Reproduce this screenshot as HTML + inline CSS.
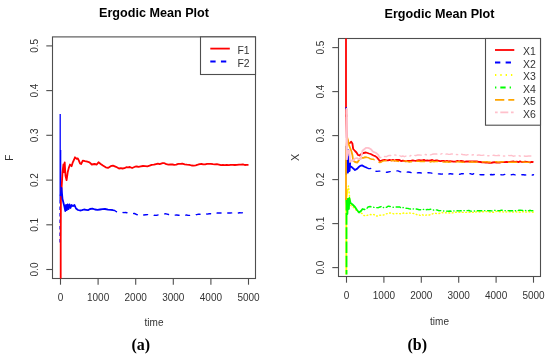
<!DOCTYPE html>
<html><head><meta charset="utf-8"><style>
html,body{margin:0;padding:0;background:#fff;}
body{width:550px;height:358px;overflow:hidden;position:relative;}
svg{position:absolute;left:0;top:0;}
.ls{font-family:"Liberation Sans",Arial,sans-serif;}
.lsr{font-family:"Liberation Serif","Times New Roman",serif;}
</style></head><body>
<svg width="550" height="358" viewBox="0 0 550 358">
<defs>
<clipPath id="cl"><rect x="52.5" y="36.9" width="203.0" height="241.6"/></clipPath>
<clipPath id="cr"><rect x="338.5" y="38.5" width="202.0" height="238.0"/></clipPath>
</defs>

<text x="154.0" y="17.0" class="ls" font-weight="bold" font-size="12.6" text-anchor="middle" fill="#000">Ergodic Mean Plot</text>
<g stroke="#4e4e4e" stroke-width="1.1" fill="none">
<rect x="52.5" y="36.9" width="203.0" height="241.6"/>
<line x1="46.3" y1="269.5" x2="52.5" y2="269.5"/>
<line x1="60.5" y1="278.5" x2="60.5" y2="284.7"/>
<line x1="46.3" y1="224.8" x2="52.5" y2="224.8"/>
<line x1="98.1" y1="278.5" x2="98.1" y2="284.7"/>
<line x1="46.3" y1="180.1" x2="52.5" y2="180.1"/>
<line x1="135.7" y1="278.5" x2="135.7" y2="284.7"/>
<line x1="46.3" y1="135.3" x2="52.5" y2="135.3"/>
<line x1="173.3" y1="278.5" x2="173.3" y2="284.7"/>
<line x1="46.3" y1="90.6" x2="52.5" y2="90.6"/>
<line x1="210.9" y1="278.5" x2="210.9" y2="284.7"/>
<line x1="46.3" y1="45.9" x2="52.5" y2="45.9"/>
<line x1="248.5" y1="278.5" x2="248.5" y2="284.7"/>
</g>
<g class="ls" font-size="10" fill="#333">
<text transform="translate(37.7,269.5) rotate(-90)" text-anchor="middle">0.0</text>
<text x="60.5" y="300.7" text-anchor="middle">0</text>
<text transform="translate(37.7,224.8) rotate(-90)" text-anchor="middle">0.1</text>
<text x="98.1" y="300.7" text-anchor="middle">1000</text>
<text transform="translate(37.7,180.1) rotate(-90)" text-anchor="middle">0.2</text>
<text x="135.7" y="300.7" text-anchor="middle">2000</text>
<text transform="translate(37.7,135.3) rotate(-90)" text-anchor="middle">0.3</text>
<text x="173.3" y="300.7" text-anchor="middle">3000</text>
<text transform="translate(37.7,90.6) rotate(-90)" text-anchor="middle">0.4</text>
<text x="210.9" y="300.7" text-anchor="middle">4000</text>
<text transform="translate(37.7,45.9) rotate(-90)" text-anchor="middle">0.5</text>
<text x="248.5" y="300.7" text-anchor="middle">5000</text>
<text x="154.0" y="326.4" text-anchor="middle">time</text>
<text transform="translate(13.2,157.7) rotate(-90)" text-anchor="middle" font-size="10">F</text>
</g>
<text x="439.5" y="18.3" class="ls" font-weight="bold" font-size="12.6" text-anchor="middle" fill="#000">Ergodic Mean Plot</text>
<g stroke="#4e4e4e" stroke-width="1.1" fill="none">
<rect x="338.5" y="38.5" width="202.0" height="238.0"/>
<line x1="332.3" y1="267.6" x2="338.5" y2="267.6"/>
<line x1="346.5" y1="276.5" x2="346.5" y2="282.7"/>
<line x1="332.3" y1="223.6" x2="338.5" y2="223.6"/>
<line x1="383.9" y1="276.5" x2="383.9" y2="282.7"/>
<line x1="332.3" y1="179.6" x2="338.5" y2="179.6"/>
<line x1="421.3" y1="276.5" x2="421.3" y2="282.7"/>
<line x1="332.3" y1="135.6" x2="338.5" y2="135.6"/>
<line x1="458.7" y1="276.5" x2="458.7" y2="282.7"/>
<line x1="332.3" y1="91.6" x2="338.5" y2="91.6"/>
<line x1="496.1" y1="276.5" x2="496.1" y2="282.7"/>
<line x1="332.3" y1="47.6" x2="338.5" y2="47.6"/>
<line x1="533.5" y1="276.5" x2="533.5" y2="282.7"/>
</g>
<g class="ls" font-size="10" fill="#333">
<text transform="translate(324.2,267.6) rotate(-90)" text-anchor="middle">0.0</text>
<text x="346.5" y="299.0" text-anchor="middle">0</text>
<text transform="translate(324.2,223.6) rotate(-90)" text-anchor="middle">0.1</text>
<text x="383.9" y="299.0" text-anchor="middle">1000</text>
<text transform="translate(324.2,179.6) rotate(-90)" text-anchor="middle">0.2</text>
<text x="421.3" y="299.0" text-anchor="middle">2000</text>
<text transform="translate(324.2,135.6) rotate(-90)" text-anchor="middle">0.3</text>
<text x="458.7" y="299.0" text-anchor="middle">3000</text>
<text transform="translate(324.2,91.6) rotate(-90)" text-anchor="middle">0.4</text>
<text x="496.1" y="299.0" text-anchor="middle">4000</text>
<text transform="translate(324.2,47.6) rotate(-90)" text-anchor="middle">0.5</text>
<text x="533.5" y="299.0" text-anchor="middle">5000</text>
<text x="439.5" y="324.5" text-anchor="middle">time</text>
<text transform="translate(299.0,157.5) rotate(-90)" text-anchor="middle" font-size="10.8">X</text>
</g>
<polyline clip-path="url(#cl)" points="60.2,114.0 60.2,150.0" fill="none" stroke="#0000ff" stroke-width="1.3" stroke-linejoin="round"/>
<polyline clip-path="url(#cl)" points="60.4,150.0 60.4,200.0" fill="none" stroke="#0000ff" stroke-width="1.8" stroke-linejoin="round"/>
<polyline clip-path="url(#cl)" points="60.2,200.0 60.2,244.0" fill="none" stroke="#0000ff" stroke-width="1.6" stroke-linejoin="round" stroke-dasharray="3.5,3"/>
<polyline clip-path="url(#cl)" points="60.7,280.0 60.7,244.0 60.9,200.0 61.6,188.0 62.5,172.3 63.4,164.5 64.0,172.3 64.7,162.3 65.5,175.7 66.6,180.2 67.7,172.3 68.8,167.9 70.0,164.5 71.6,166.2 72.8,162.3 73.9,160.0 75.0,157.3 76.7,158.9 77.8,158.4 78.9,160.6 80.0,163.4 81.1,164.0 82.8,160.6 85.0,161.2 87.3,161.7 89.5,162.3 91.8,164.5 94.5,164.0 96.8,164.5 98.5,162.3 100.7,164.0 102.9,165.6 105.7,167.3 108.0,167.9 110.7,166.2 113.0,165.6 116.0,166.8 119.0,168.5 120.8,168.1 122.6,168.5 124.4,168.2 126.3,167.2 128.1,167.4 129.9,167.0 132.1,168.0 135.0,166.7 136.8,166.5 138.6,166.9 140.8,166.4 143.0,166.0 145.2,166.1 147.4,166.3 149.6,165.7 151.7,164.8 153.9,164.7 156.1,164.1 157.9,163.7 159.7,164.1 162.6,163.1 164.4,163.2 166.3,164.1 168.4,164.6 170.6,164.5 172.5,164.5 174.3,164.9 176.2,164.7 178.3,163.9 180.3,163.9 182.4,163.6 184.7,164.3 187.0,164.7 189.3,164.9 191.6,165.5 193.7,165.6 195.7,165.3 197.8,164.7 199.7,164.1 201.5,164.0 203.4,164.3 205.2,164.4 207.1,163.9 209.0,163.9 210.9,163.9 212.9,164.2 214.8,164.4 216.9,164.2 218.9,164.6 221.0,165.1 222.9,165.0 224.8,165.1 226.8,164.9 228.7,165.1 230.8,164.8 232.8,164.8 234.9,165.0 237.0,164.9 239.0,164.6 241.1,164.7 242.9,164.3 244.8,165.0 246.7,164.8 248.5,164.8" fill="none" stroke="#ff0000" stroke-width="1.8" stroke-linejoin="round"/>
<polyline clip-path="url(#cl)" points="60.6,196.0 61.5,188.0 62.5,199.0 63.5,203.0 64.5,207.0 65.3,211.0 66.0,205.0 66.8,210.0 67.6,204.5 68.5,209.0 69.5,204.5 70.5,208.0 71.5,205.0 73.0,206.0 74.5,205.0 76.0,208.5 78.0,210.0 80.0,210.5 82.0,210.2 84.0,209.5 86.0,209.8 88.0,210.2 90.0,209.0 92.5,208.6 95.0,209.5 97.5,209.8 100.0,209.5 102.5,209.2 105.0,209.0 108.0,209.6 111.0,209.8 113.0,210.2" fill="none" stroke="#0000ff" stroke-width="1.8" stroke-linejoin="round"/>
<polyline clip-path="url(#cl)" points="113.0,210.2 114.7,210.5 116.4,211.7 118.2,212.0 120.0,211.7 121.8,212.3 123.7,212.6 125.5,212.5 127.3,212.8 129.1,212.8 130.9,212.9 132.7,213.4 134.5,213.5 136.8,214.6 139.1,215.5 141.3,214.8 143.6,215.0 145.9,214.8 148.2,214.6 150.6,215.2 152.9,215.6 154.6,215.3 156.2,215.4 157.8,215.0 159.5,214.5 161.4,214.3 163.3,214.0 165.3,213.8 167.2,214.1 169.1,214.7 171.0,214.8 172.9,214.9 174.8,215.1 176.7,215.0 178.6,215.2 180.5,215.3 182.4,215.0 184.3,215.3 186.3,215.0 188.2,215.4 190.1,215.3 191.8,215.3 193.4,215.2 195.1,214.6 196.8,214.7 198.5,214.2 200.2,214.2 201.9,214.4 203.6,214.1 205.3,213.9 207.2,214.1 209.2,213.7 211.1,213.7 213.0,213.7 214.9,213.9 216.8,213.1 218.7,212.9 220.6,213.0 222.5,213.1 224.4,213.1 226.4,212.9 228.3,213.0 230.2,213.0 232.1,212.9 234.0,213.1 235.9,213.2 237.8,213.1 239.7,212.8 241.5,212.9 243.2,212.7 245.0,213.1 246.7,212.6 248.5,212.6" fill="none" stroke="#0000ff" stroke-width="1.4" stroke-linejoin="round" stroke-dasharray="3.92,6.72" stroke-linecap="round"/>
<polyline clip-path="url(#cr)" points="346.0,30.0 346.0,107.0 346.4,125.0 346.8,138.0 348.5,143.5 350.0,143.0 351.2,141.7 352.4,143.5 353.2,149.0 355.0,151.0 356.5,152.5 358.0,155.0 359.5,155.5 361.5,154.0 363.5,153.0 366.0,152.5 369.0,153.5 370.7,154.0 373.5,155.5 375.2,156.1 376.9,157.4 379.8,161.0 381.4,160.7 383.1,160.2 384.7,160.0 386.4,160.3 388.0,160.4 389.6,159.8 391.3,160.5 392.9,159.8 394.6,160.7 396.2,159.8 397.8,160.0 399.4,159.9 401.1,161.1 402.8,160.7 404.4,161.0 406.0,161.3 407.6,160.9 409.3,161.0 410.9,160.8 412.5,160.3 414.2,160.7 415.8,160.8 417.5,160.3 419.1,160.1 420.7,160.4 422.4,160.4 424.0,159.9 425.7,160.7 427.3,160.5 428.9,160.6 430.6,160.3 432.2,160.0 433.9,160.9 435.5,160.5 437.1,160.5 438.7,160.8 440.4,161.1 442.0,160.9 443.6,160.8 445.2,161.3 446.9,160.9 448.5,161.4 450.2,161.1 451.8,161.3 453.6,161.7 455.5,161.7 457.4,160.9 459.2,161.3 461.0,161.0 462.7,161.1 464.5,161.8 466.3,161.3 468.0,161.5 469.8,161.3 471.6,161.5 473.3,161.4 475.1,161.5 476.9,161.5 478.6,161.9 480.4,162.0 482.2,162.4 484.0,162.4 485.7,162.7 487.5,162.5 489.2,162.8 491.0,162.9 492.7,162.5 494.4,162.1 496.2,162.6 497.9,162.7 499.7,162.6 501.4,162.2 503.1,162.2 504.8,162.2 506.5,161.8 508.2,162.2 510.0,161.9 511.7,161.6 513.4,161.4 515.1,162.0 516.8,161.6 518.5,162.1 520.1,161.4 521.8,162.0 523.5,161.8 525.1,161.6 526.8,161.8 528.5,162.2 530.2,162.4 531.8,161.8 533.5,162.2" fill="none" stroke="#ff0000" stroke-width="1.8" stroke-linejoin="round"/>
<polyline clip-path="url(#cr)" points="346.3,146.0 346.3,174.0 347.5,160.0 347.8,150.0 348.0,172.5 349.0,157.0 349.6,171.0 350.2,162.0 348.5,163.5 350.0,166.0 352.0,167.3 355.0,170.0 357.0,168.9 358.5,167.3 360.2,165.9 362.0,165.4 364.5,166.7 367.0,167.8" fill="none" stroke="#0000ff" stroke-width="1.8" stroke-linejoin="round"/>
<polyline clip-path="url(#cr)" points="367.0,167.8 368.7,168.6 370.3,168.5 372.0,168.0 374.6,171.0 376.8,171.4 379.0,171.1 380.7,171.1 382.3,171.6 384.0,172.2 387.0,172.2 390.0,171.6 393.0,171.6 396.0,170.9 398.0,170.9 400.4,171.8 402.7,172.2 404.4,172.7 406.0,172.4 408.0,172.0 410.0,172.3 412.0,172.8 413.6,173.2 415.2,172.4 416.8,173.0 418.4,172.6 420.0,172.8 421.8,173.0 423.5,173.2 425.2,172.9 427.0,172.8 428.7,172.8 430.3,172.9 432.0,173.2 433.7,173.6 435.3,173.9 437.0,174.0 438.6,173.9 440.2,174.0 441.8,174.1 443.4,173.8 445.0,174.1 446.8,173.8 448.5,174.1 450.2,173.6 452.0,174.0 454.0,174.1 456.0,174.3 458.0,174.1 459.8,174.3 461.5,173.7 463.2,173.7 465.0,173.7 466.8,174.1 468.7,173.6 470.5,173.7 472.2,174.3 473.9,173.7 475.6,174.4 477.3,173.8 479.1,174.5 480.8,174.7 482.5,174.6 484.2,174.8 485.9,174.8 487.6,175.2 489.3,175.2 491.1,174.5 492.8,174.8 494.5,174.4 496.2,174.7 498.0,174.5 499.7,174.5 501.4,174.8 503.1,174.9 504.8,174.4 506.5,174.5 508.2,174.4 510.0,175.1 511.7,174.6 513.4,174.4 515.1,174.9 516.8,174.8 518.5,175.0 520.1,174.9 521.8,174.8 523.5,174.8 525.1,175.0 526.8,174.6 528.5,175.1 530.2,175.0 531.8,175.1 533.5,174.8" fill="none" stroke="#0000ff" stroke-width="1.4" stroke-linejoin="round" stroke-dasharray="3.92,6.72" stroke-linecap="round"/>
<polyline clip-path="url(#cr)" points="346.3,274.5 346.3,199.0 347.5,190.0" fill="none" stroke="#ffff00" stroke-width="1.8" stroke-linejoin="round"/>
<polyline clip-path="url(#cr)" points="347.5,190.0 348.5,186.0 349.5,196.0 350.0,205.0 353.0,207.0 356.0,210.0 358.0,211.9 360.0,212.5 362.0,213.5 364.0,215.5 366.0,216.0 368.0,215.0 370.0,214.5 372.0,214.9 374.0,214.5 376.0,215.9 378.0,216.0 380.0,215.2 382.0,215.0 384.0,214.9 386.0,214.0 388.0,213.3 390.0,213.0 392.0,213.1 394.0,214.0 396.0,213.6 398.0,213.5 400.4,213.7 402.7,213.3 404.4,212.9 406.0,213.5 407.6,213.1 409.3,212.9 411.0,213.2 412.6,213.3 414.2,213.6 415.9,214.1 417.5,215.0 419.1,215.0 420.7,215.5 422.4,214.7 424.0,215.5 425.7,215.1 427.3,215.0 428.9,215.1 430.6,214.6 432.2,214.0 433.9,213.4 435.5,213.3 437.1,213.6 438.8,213.6 440.4,213.1 442.0,212.5 443.7,213.1 445.3,212.7 447.0,212.9 448.8,212.9 450.5,213.0 452.2,212.9 454.0,212.6 455.7,212.2 457.5,212.3 459.2,212.2 460.8,212.2 462.4,212.4 464.0,212.3 465.6,212.4 467.2,212.1 468.8,212.2 470.4,212.5 472.0,212.3 473.6,212.4 475.2,212.2 476.8,211.7 478.4,211.9 480.0,212.0 481.7,211.8 483.3,211.8 485.0,211.6 486.7,211.6 488.3,211.9 490.0,212.1 491.7,212.2 493.3,212.3 495.0,211.9 496.7,211.4 498.3,211.6 500.0,211.8 501.7,211.4 503.4,212.1 505.0,211.7 506.7,212.0 508.4,211.8 510.1,211.9 511.7,212.2 513.4,212.0 515.1,211.5 516.8,212.0 518.4,211.8 520.1,212.3 521.8,211.7 523.5,211.7 525.1,212.3 526.8,211.9 528.5,211.6 530.1,212.2 531.8,212.3 533.5,212.0" fill="none" stroke="#ffff00" stroke-width="1.4" stroke-linejoin="round" stroke-dasharray="0.8,2.6" stroke-linecap="round"/>
<polyline clip-path="url(#cr)" points="346.5,274.5 346.5,198.0" fill="none" stroke="#00ff00" stroke-width="1.8" stroke-linejoin="round" stroke-dasharray="11.6,2.6" stroke-dashoffset="7.0"/>
<polyline clip-path="url(#cr)" points="346.5,198.0 347.4,214.0 348.1,199.0 348.9,209.0 349.4,198.0 350.5,203.0 352.5,204.5 355.0,207.0 357.0,210.0 359.0,212.5 361.0,211.0 362.5,209.0 364.5,209.5" fill="none" stroke="#00ff00" stroke-width="1.8" stroke-linejoin="round"/>
<polyline clip-path="url(#cr)" points="364.5,209.5 366.5,209.0 368.0,207.0 370.0,206.5 372.0,207.0 375.0,207.5 376.7,207.6 378.3,207.7 380.0,207.0 381.7,206.3 383.3,207.6 385.0,207.0 386.7,207.3 388.3,206.1 390.0,206.5 391.7,207.1 393.3,207.2 395.0,207.0 398.0,207.0 399.6,206.9 401.2,208.0 402.8,207.5 404.4,207.9 406.0,208.3 407.6,208.4 409.2,208.8 410.9,209.1 412.5,208.7 414.2,209.1 415.8,208.9 417.5,209.3 419.1,209.7 420.7,209.7 422.4,209.2 424.0,209.5 425.6,210.0 427.3,209.4 428.9,209.6 430.6,209.2 432.2,209.7 433.8,210.1 435.5,209.7 437.1,210.0 438.7,210.7 440.4,210.6 442.0,210.9 443.6,211.0 445.3,211.2 446.9,211.1 448.5,211.2 450.2,211.0 451.8,211.4 453.6,210.9 455.5,210.9 457.4,210.8 459.2,210.9 460.8,210.7 462.4,211.2 464.1,210.6 465.7,210.5 467.3,210.6 468.9,210.5 470.5,211.1 472.2,211.2 473.8,211.0 475.4,211.1 477.0,210.8 478.7,210.7 480.3,210.6 481.9,210.8 483.5,210.4 485.1,210.7 486.8,210.5 488.4,210.8 490.0,210.6 491.6,210.9 493.2,210.7 494.8,210.3 496.4,210.7 498.1,210.8 499.7,210.6 501.3,210.2 502.9,210.2 504.5,210.6 506.1,210.7 507.7,210.6 509.3,210.7 510.9,210.6 512.6,210.8 514.2,210.3 515.8,210.8 517.4,210.7 519.0,210.2 520.6,210.3 522.2,210.4 523.8,210.8 525.4,210.6 527.1,210.2 528.7,210.7 530.3,210.3 531.9,210.8 533.5,210.5" fill="none" stroke="#00ff00" stroke-width="1.4" stroke-linejoin="round" stroke-dasharray="0.3,2.8,4.5,2.8" stroke-linecap="round"/>
<polyline clip-path="url(#cr)" points="346.0,200.0 346.0,150.0 347.3,137.8 349.0,145.0 351.5,151.6 352.4,155.0 353.2,160.8 355.0,162.0 357.4,162.5 360.0,158.5 361.8,157.9 363.5,157.9 365.1,157.1 366.8,157.4" fill="none" stroke="#ffa500" stroke-width="1.8" stroke-linejoin="round"/>
<polyline clip-path="url(#cr)" points="366.8,157.4 368.5,157.7 370.2,158.8 371.9,159.2 373.5,159.3 375.8,161.2 378.0,161.8 379.8,162.6 381.5,162.0 383.1,161.0 384.7,160.9 386.4,160.5 388.0,160.2 389.7,161.3 391.3,160.5 392.9,160.9 394.6,160.4 396.2,161.0 397.8,161.2 399.4,161.6 401.1,160.9 402.7,161.3 404.4,161.1 406.0,161.0 407.6,161.6 409.3,162.0 411.0,161.8 412.6,161.6 414.2,161.2 415.9,161.5 417.5,161.1 419.1,161.2 420.7,161.6 422.4,161.2 424.0,161.6 425.6,161.4 427.3,161.3 428.9,161.5 430.6,162.0 432.2,161.3 433.9,161.7 435.5,161.6 437.1,161.5 438.8,161.5 440.4,161.5 442.0,162.0 443.6,162.1 445.3,162.0 446.9,161.8 448.7,162.2 450.4,162.0 452.2,161.6 453.9,161.5 455.7,161.9 457.4,161.9 459.2,161.8 460.8,162.1 462.4,162.2 464.0,162.1 465.7,162.3 467.3,162.0 468.9,162.0 470.5,162.1 472.1,161.8 473.7,162.1 475.4,162.2 477.0,161.9 478.6,161.7 480.2,161.8 481.8,162.0 483.4,161.9 485.0,161.9 486.7,161.8 488.3,162.1 489.9,162.0 491.5,162.3 493.1,162.3 494.7,161.5 496.4,161.8 498.0,162.1 499.6,161.9 501.2,162.0 502.8,161.7 504.4,161.8 506.0,162.2 507.7,162.1 509.3,162.3 510.9,162.3 512.5,162.3 514.1,162.3 515.7,162.3 517.3,162.3 519.0,162.3 520.6,161.9 522.2,161.9 523.8,161.9 525.4,162.2 527.0,162.4 528.7,162.1 530.3,161.9 531.9,161.6 533.5,162.0" fill="none" stroke="#ffa500" stroke-width="1.4" stroke-linejoin="round" stroke-dasharray="7.91,5.39" stroke-linecap="round"/>
<polyline clip-path="url(#cr)" points="346.6,109.0 346.6,160.0" fill="none" stroke="#ffc0cb" stroke-width="2.0" stroke-linejoin="round"/>
<polyline clip-path="url(#cr)" points="346.4,114.5 346.4,117.0" fill="none" stroke="#ff3030" stroke-width="1.6" stroke-linejoin="round"/>
<polyline clip-path="url(#cr)" points="346.2,107.3 346.2,109.3" fill="none" stroke="#0000ff" stroke-width="1.6" stroke-linejoin="round"/>
<polyline clip-path="url(#cr)" points="346.7,108.0 346.7,159.0 348.2,151.0 349.5,150.8 350.0,162.0 351.6,160.3 353.3,160.5 354.9,158.5 356.9,158.0 358.8,159.2 360.8,159.0 362.4,150.8 364.6,149.0 366.2,147.8 367.9,147.9 369.6,148.4 371.3,149.6 373.0,151.7 374.6,152.3 376.6,153.3 378.5,155.1 379.8,158.0" fill="none" stroke="#ffc0cb" stroke-width="1.8" stroke-linejoin="round"/>
<polyline clip-path="url(#cr)" points="379.8,158.0 381.4,157.0 383.1,157.4 384.7,156.4 386.4,156.7 388.0,155.8 389.6,155.4 391.3,155.5 392.9,155.1 394.6,155.0 396.2,155.1 397.8,155.5 399.4,155.4 401.1,156.5 402.8,156.0 404.4,156.7 406.0,156.0 407.6,156.6 409.3,156.3 410.9,155.5 412.5,155.0 414.2,155.1 415.8,155.7 417.5,155.0 419.1,155.0 420.7,155.1 422.4,155.2 424.0,155.2 425.7,154.5 427.3,155.0 428.9,155.0 430.6,154.9 432.2,154.3 433.9,154.0 435.5,153.9 437.1,154.1 438.7,154.4 440.4,154.3 442.0,153.6 443.6,153.9 445.2,154.2 446.9,153.9 448.5,154.4 450.2,154.3 451.8,153.9 453.6,154.0 455.5,154.5 457.4,154.6 459.2,154.4 460.9,154.1 462.6,154.5 464.3,154.7 466.1,155.2 467.9,154.6 469.7,154.8 471.5,155.0 473.3,154.8 475.1,155.0 476.9,155.3 478.7,154.9 480.5,155.3 482.3,155.4 484.1,155.0 485.9,155.5 487.8,155.8 489.6,155.8 491.5,155.8 493.3,155.2 495.2,155.5 497.0,155.6 498.8,155.3 500.6,155.8 502.4,155.8 504.2,156.1 506.0,155.8 507.8,155.5 509.6,155.6 511.4,155.4 513.2,156.2 515.0,155.9 516.8,155.8 518.5,155.5 520.1,156.1 521.8,155.8 523.5,155.8 525.1,156.2 526.8,156.2 528.5,156.0 530.2,155.9 531.8,156.0 533.5,156.1" fill="none" stroke="#ffc0cb" stroke-width="1.4" stroke-linejoin="round" stroke-dasharray="1.26,4.06,6.58,4.06" stroke-linecap="round"/>
<rect x="200.5" y="36.9" width="55.0" height="37.6" fill="#fff" stroke="#4e4e4e" stroke-width="1.1"/>
<line x1="210.3" y1="48.6" x2="229.8" y2="48.6" stroke="#ff0000" stroke-width="1.8"/>
<text x="237.4" y="53.7" class="ls" font-size="10.4" fill="#333">F1</text>
<line x1="210.3" y1="61.5" x2="229.8" y2="61.5" stroke="#0000ff" stroke-width="1.8" stroke-dasharray="5.32,5.32"/>
<text x="237.4" y="66.6" class="ls" font-size="10.4" fill="#333">F2</text>
<rect x="485.5" y="38.5" width="55.0" height="86.7" fill="#fff" stroke="#4e4e4e" stroke-width="1.1"/>
<line x1="495.0" y1="50.0" x2="514.3" y2="50.0" stroke="#ff0000" stroke-width="1.8"/>
<text x="522.9" y="55.3" class="ls" font-size="10.5" fill="#333">X1</text>
<line x1="495.0" y1="62.5" x2="514.3" y2="62.5" stroke="#0000ff" stroke-width="1.8" stroke-dasharray="5.32,5.32"/>
<text x="522.9" y="67.8" class="ls" font-size="10.5" fill="#333">X2</text>
<line x1="495.0" y1="75.0" x2="514.3" y2="75.0" stroke="#ffff00" stroke-width="1.8" stroke-dasharray="1.33,3.99"/>
<text x="522.9" y="80.3" class="ls" font-size="10.5" fill="#333">X3</text>
<line x1="495.0" y1="87.5" x2="514.3" y2="87.5" stroke="#00ff00" stroke-width="1.8" stroke-dasharray="1.33,3.99,5.32,3.99"/>
<text x="522.9" y="92.8" class="ls" font-size="10.5" fill="#333">X4</text>
<line x1="495.0" y1="99.9" x2="514.3" y2="99.9" stroke="#ffa500" stroke-width="1.8" stroke-dasharray="9.31,3.99"/>
<text x="522.9" y="105.2" class="ls" font-size="10.5" fill="#333">X5</text>
<line x1="495.0" y1="112.4" x2="514.3" y2="112.4" stroke="#ffc0cb" stroke-width="1.8" stroke-dasharray="2.66,2.66,7.98,2.66"/>
<text x="522.9" y="117.7" class="ls" font-size="10.5" fill="#333">X6</text>
<text x="131.5" y="349.8" class="lsr" font-weight="bold" font-size="16" fill="#000">(a)</text>
<text x="407.5" y="349.6" class="lsr" font-weight="bold" font-size="16" fill="#000">(b)</text>
</svg>
</body></html>
